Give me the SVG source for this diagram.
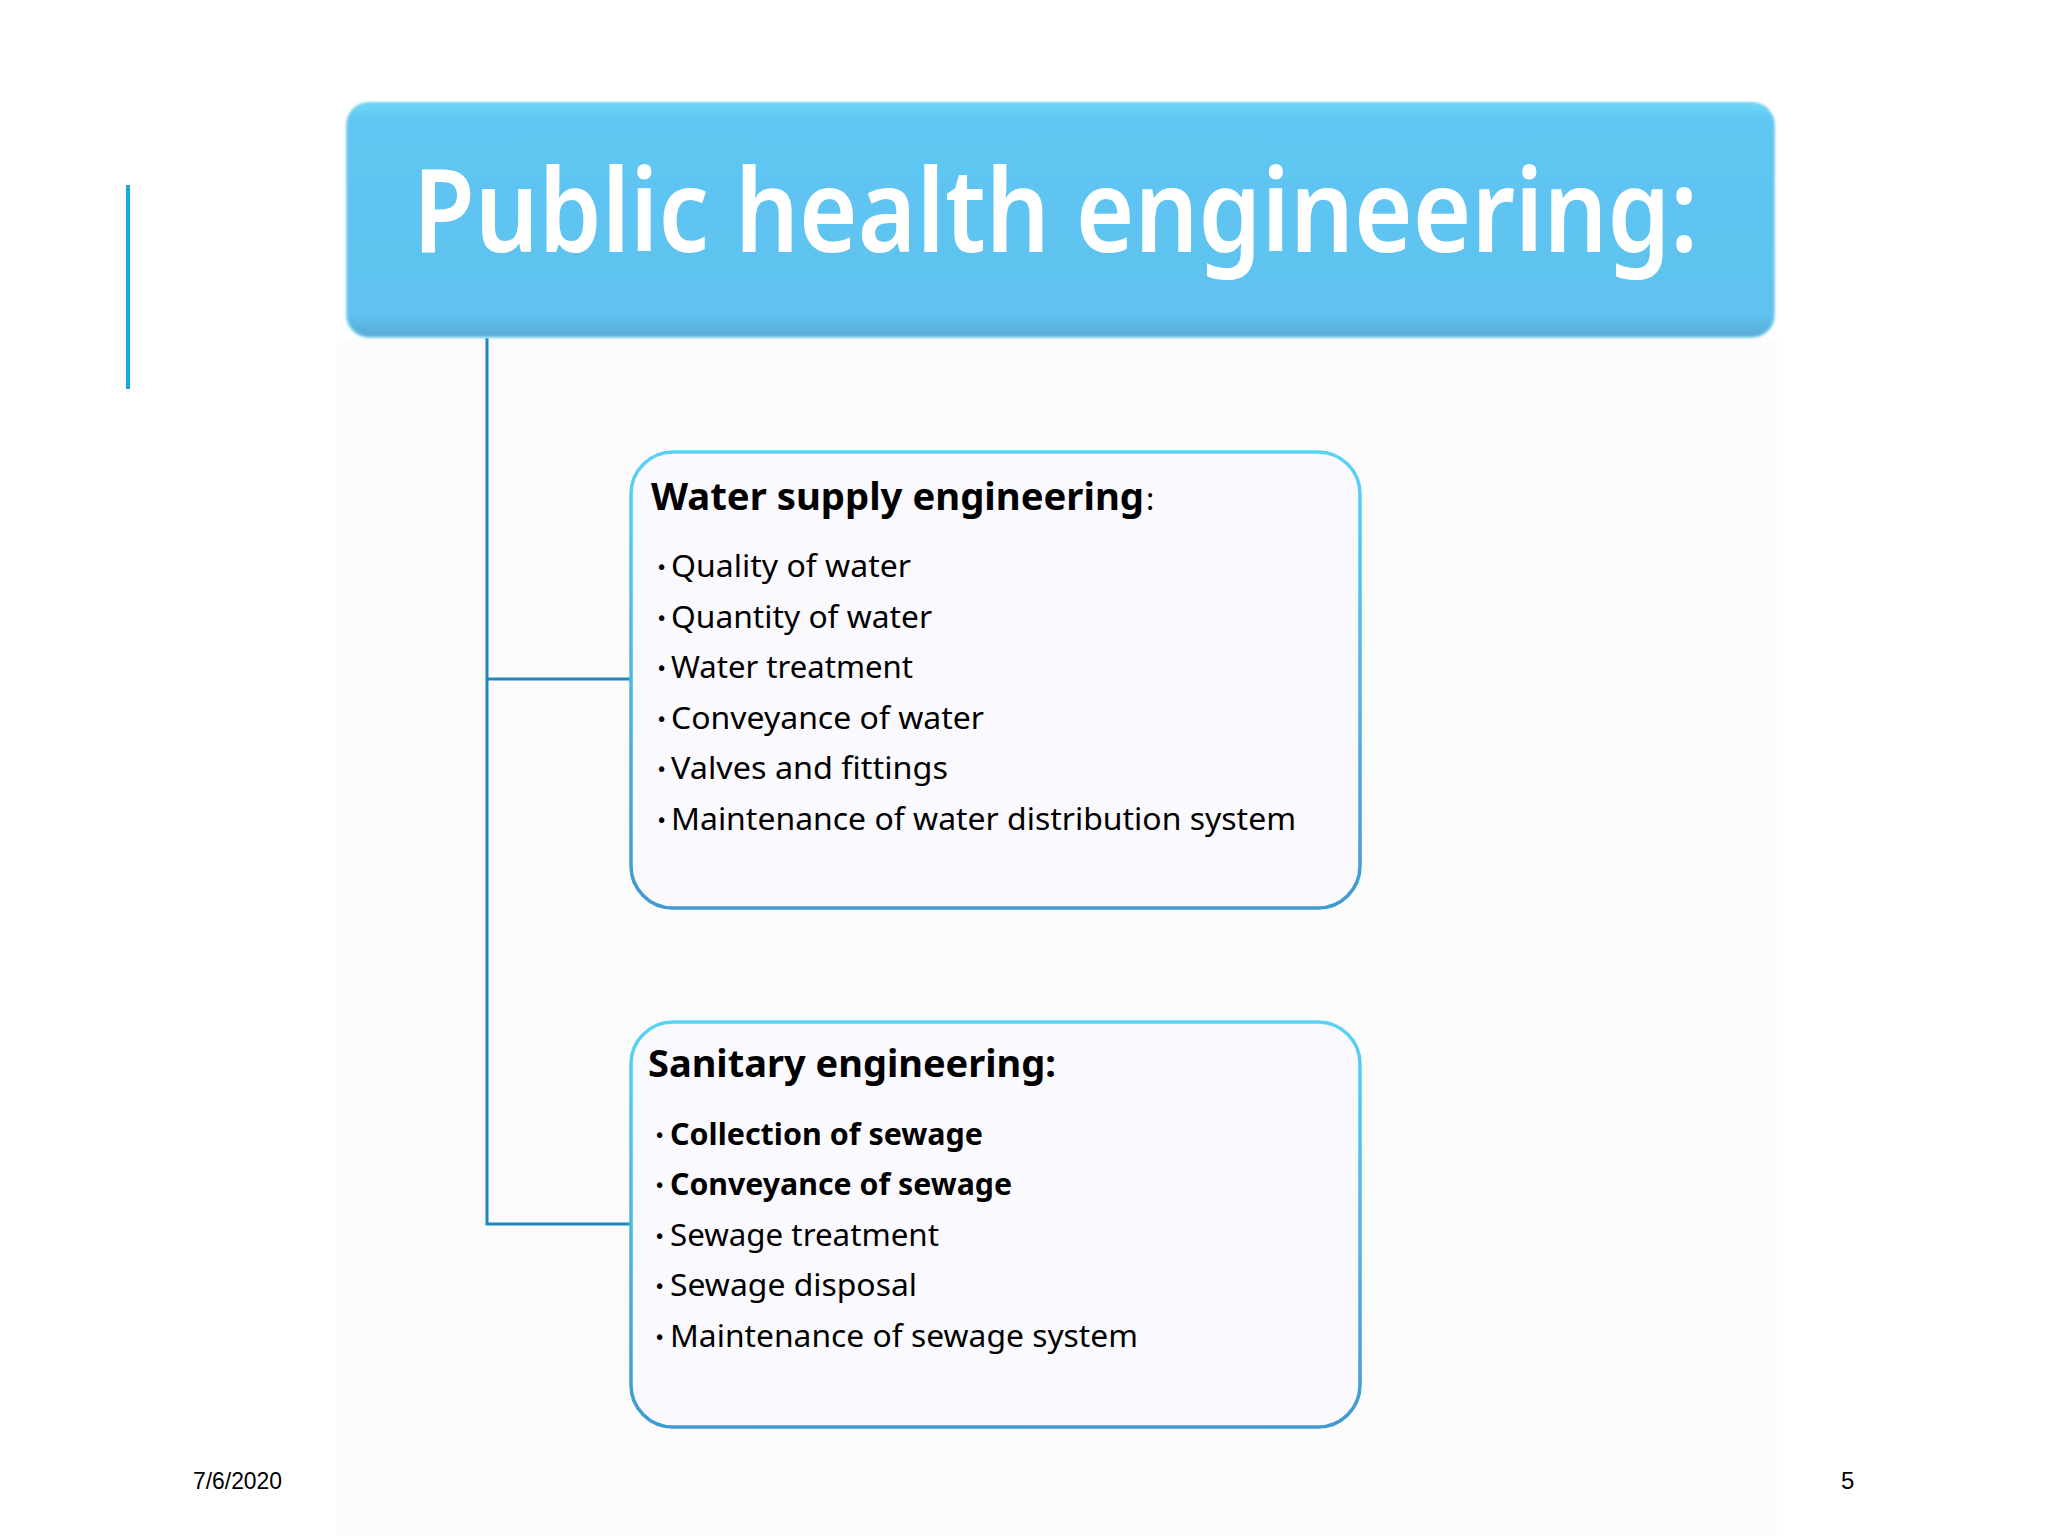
<svg xmlns="http://www.w3.org/2000/svg" width="2048" height="1536" viewBox="0 0 2048 1536">
<defs>
<linearGradient id="titleFill" x1="0" y1="0" x2="0" y2="1">
<stop offset="0" stop-color="#6CD8FA"/>
<stop offset="0.07" stop-color="#60C6F2"/>
<stop offset="0.9" stop-color="#5EC2F0"/>
<stop offset="0.97" stop-color="#5AB2DD"/>
<stop offset="1" stop-color="#5AA8D4"/>
</linearGradient>
<linearGradient id="boxStroke" x1="0" y1="0" x2="0" y2="1">
<stop offset="0" stop-color="#5AD2F6"/>
<stop offset="1" stop-color="#3F9AD0"/>
</linearGradient>
<filter id="soft" x="-5%" y="-10%" width="110%" height="120%">
<feGaussianBlur stdDeviation="1.2"/>
</filter>
</defs>
<style>
.title{font-family:"Noto Sans","Open Sans","DejaVu Sans",sans-serif;font-size:115px;font-weight:600;fill:#FFFFFF}
.head{font-family:"Noto Sans","Open Sans","DejaVu Sans",sans-serif;font-size:38px;font-weight:bold;fill:#000000}
.item{font-family:"Noto Sans","Open Sans","DejaVu Sans",sans-serif;font-size:31px;fill:#000000}
.bold{font-weight:bold}
.dot{font-family:"DejaVu Sans",sans-serif;font-size:19px;fill:#000000}
.box{fill:#FAF9FE;stroke:url(#boxStroke);stroke-width:3.5}
.conn{stroke:#1F86BE;stroke-width:3;fill:none}
.foot{font-family:"Liberation Sans",Arial,sans-serif;font-size:24px;fill:#000000}
</style>
<rect x="0" y="0" width="2048" height="1536" fill="#FFFFFF"/>
<rect x="337" y="338" width="1440" height="1198" fill="#FCFCFD"/>
<rect x="126" y="185" width="4" height="204" fill="#1AA7E1"/>

<g id="connectors">
<path class="conn" d="M487 338 V1224 H631"/>
<path class="conn" d="M487 679 H631"/>
</g>

<g id="title">
<rect x="347" y="103" width="1427" height="234" rx="22" ry="22" fill="url(#titleFill)" stroke="#7ACFEF" stroke-width="2" filter="url(#soft)"/>
<text class="title" x="413" y="252" textLength="1285" lengthAdjust="spacingAndGlyphs">Public health engineering:</text>
</g>

<g id="water-supply">
<rect class="box" x="631" y="452" width="729" height="456" rx="42" ry="42"/>
<text class="head" x="651" y="510" textLength="493" lengthAdjust="spacingAndGlyphs">Water supply engineering</text>
<text class="item" x="1146" y="510">:</text>
<text class="dot" x="656" y="574">•</text><text class="item" x="671" y="577" textLength="240" lengthAdjust="spacingAndGlyphs">Quality of water</text>
<text class="dot" x="656" y="625">•</text><text class="item" x="671" y="628" textLength="261" lengthAdjust="spacingAndGlyphs">Quantity of water</text>
<text class="dot" x="656" y="675">•</text><text class="item" x="671" y="678" textLength="242" lengthAdjust="spacingAndGlyphs">Water treatment</text>
<text class="dot" x="656" y="726">•</text><text class="item" x="671" y="729" textLength="313" lengthAdjust="spacingAndGlyphs">Conveyance of water</text>
<text class="dot" x="656" y="776">•</text><text class="item" x="671" y="779" textLength="277" lengthAdjust="spacingAndGlyphs">Valves and fittings</text>
<text class="dot" x="656" y="827">•</text><text class="item" x="671" y="830" textLength="625" lengthAdjust="spacingAndGlyphs">Maintenance of water distribution system</text>
</g>

<g id="sanitary">
<rect class="box" x="631" y="1022" width="729" height="405" rx="42" ry="42"/>
<text class="head" x="648" y="1077" textLength="408" lengthAdjust="spacingAndGlyphs">Sanitary engineering:</text>
<text class="dot" x="654" y="1142">•</text><text class="item bold" x="670" y="1145" textLength="313" lengthAdjust="spacingAndGlyphs">Collection of sewage</text>
<text class="dot" x="654" y="1192">•</text><text class="item bold" x="670" y="1195" textLength="342" lengthAdjust="spacingAndGlyphs">Conveyance of sewage</text>
<text class="dot" x="654" y="1243">•</text><text class="item" x="670" y="1246" textLength="269" lengthAdjust="spacingAndGlyphs">Sewage treatment</text>
<text class="dot" x="654" y="1293">•</text><text class="item" x="670" y="1296" textLength="247" lengthAdjust="spacingAndGlyphs">Sewage disposal</text>
<text class="dot" x="654" y="1344">•</text><text class="item" x="670" y="1347" textLength="468" lengthAdjust="spacingAndGlyphs">Maintenance of sewage system</text>
</g>

<text class="foot" x="193" y="1489" textLength="89" lengthAdjust="spacingAndGlyphs">7/6/2020</text>
<text class="foot" x="1841" y="1489">5</text>
</svg>
